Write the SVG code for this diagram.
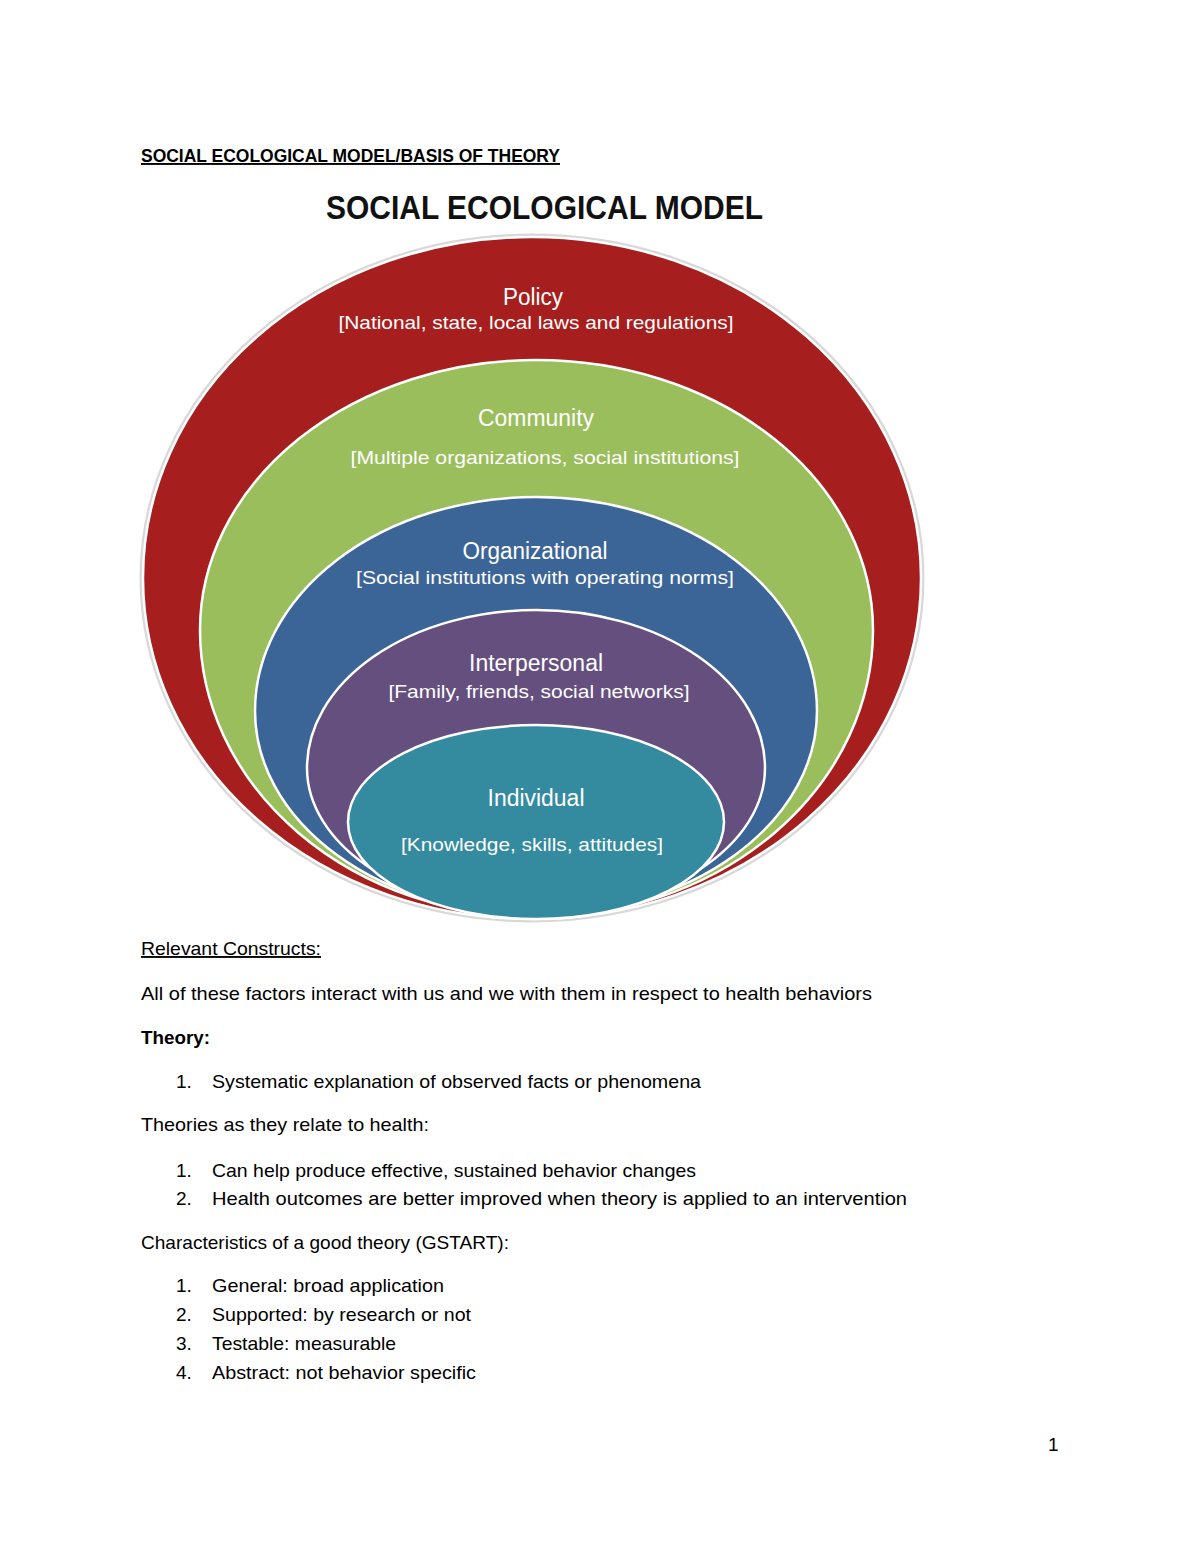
<svg xmlns="http://www.w3.org/2000/svg" width="1200" height="1553" viewBox="0 0 1200 1553">
<style>
.t{font-family:"Liberation Sans",Arial,sans-serif;fill:#000;font-size:19px}
.b{font-weight:bold}
.u{text-decoration:underline}
.w{font-family:"Liberation Sans",Arial,sans-serif;fill:#fff;text-anchor:middle}
.h{font-size:23px}
.s{font-size:19px}
.ring{stroke:#fff;stroke-width:2.5}
</style>
<rect width="1200" height="1553" fill="#fff"/>
<text class="t b u" x="141" y="162" font-size="17" textLength="419" lengthAdjust="spacingAndGlyphs">SOCIAL ECOLOGICAL MODEL/BASIS OF THEORY</text>
<text id="title" x="326" y="219" font-family="Liberation Sans,Arial,sans-serif" font-weight="bold" font-size="33" fill="#111" textLength="437" lengthAdjust="spacingAndGlyphs">SOCIAL ECOLOGICAL MODEL</text>
<g id="policy">
<ellipse cx="532" cy="578" rx="391" ry="343" fill="none" stroke="#d8d8d8" stroke-width="3"/>
<ellipse class="ring" cx="532" cy="578" rx="389" ry="341" fill="#A61E1D"/>
<text class="w h" x="533" y="305" textLength="60" lengthAdjust="spacingAndGlyphs">Policy</text>
<text class="w s" x="536" y="329" textLength="395" lengthAdjust="spacingAndGlyphs">[National, state, local laws and regulations]</text>
</g>
<g id="community">
<path class="ring" d="M200,630 A336.5,270 0 0 1 873,630 A336.5,287 0 0 1 200,630 Z" fill="#9BBE5C"/>
<text class="w h" x="536" y="426" textLength="116" lengthAdjust="spacingAndGlyphs">Community</text>
<text class="w s" x="545" y="464" textLength="389" lengthAdjust="spacingAndGlyphs">[Multiple organizations, social institutions]</text>
</g>
<g id="organizational">
<path class="ring" d="M255,711 A281,214 0 0 1 817,711 A281,204 0 0 1 255,711 Z" fill="#3C6597"/>
<text class="w h" x="535" y="559" textLength="145" lengthAdjust="spacingAndGlyphs">Organizational</text>
<text class="w s" x="545" y="584" textLength="378" lengthAdjust="spacingAndGlyphs">[Social institutions with operating norms]</text>
</g>
<g id="interpersonal">
<path class="ring" d="M307,768 A229,158 0 0 1 765,768 A229,145 0 0 1 307,768 Z" fill="#654F7F"/>
<text class="w h" x="536" y="671" textLength="134" lengthAdjust="spacingAndGlyphs">Interpersonal</text>
<text class="w s" x="539" y="698" textLength="301" lengthAdjust="spacingAndGlyphs">[Family, friends, social networks]</text>
</g>
<g id="individual">
<ellipse class="ring" cx="536" cy="822" rx="188" ry="97" fill="#348A9E"/>
<text class="w h" x="536" y="806" textLength="97" lengthAdjust="spacingAndGlyphs">Individual</text>
<text class="w s" x="532" y="851" textLength="262" lengthAdjust="spacingAndGlyphs">[Knowledge, skills, attitudes]</text>
</g>
<g id="connectors"></g>
<g id="notes">
<text class="t u" x="141" y="955" textLength="180" lengthAdjust="spacingAndGlyphs">Relevant Constructs:</text>
<text class="t" x="141" y="1000" textLength="731" lengthAdjust="spacingAndGlyphs">All of these factors interact with us and we with them in respect to health behaviors</text>
<text class="t b" x="141" y="1044" textLength="69" lengthAdjust="spacingAndGlyphs">Theory:</text>
<text class="t" x="176" y="1088">1.</text>
<text class="t" x="212" y="1088" textLength="489" lengthAdjust="spacingAndGlyphs">Systematic explanation of observed facts or phenomena</text>
<text class="t" x="141" y="1131" textLength="288" lengthAdjust="spacingAndGlyphs">Theories as they relate to health:</text>
<text class="t" x="176" y="1177">1.</text>
<text class="t" x="212" y="1177" textLength="484" lengthAdjust="spacingAndGlyphs">Can help produce effective, sustained behavior changes</text>
<text class="t" x="176" y="1205">2.</text>
<text class="t" x="212" y="1205" textLength="695" lengthAdjust="spacingAndGlyphs">Health outcomes are better improved when theory is applied to an intervention</text>
<text class="t" x="141" y="1249" textLength="368" lengthAdjust="spacingAndGlyphs">Characteristics of a good theory (GSTART):</text>
<text class="t" x="176" y="1292">1.</text>
<text class="t" x="212" y="1292" textLength="232" lengthAdjust="spacingAndGlyphs">General: broad application</text>
<text class="t" x="176" y="1321">2.</text>
<text class="t" x="212" y="1321" textLength="259" lengthAdjust="spacingAndGlyphs">Supported: by research or not</text>
<text class="t" x="176" y="1350">3.</text>
<text class="t" x="212" y="1350" textLength="184" lengthAdjust="spacingAndGlyphs">Testable: measurable</text>
<text class="t" x="176" y="1379">4.</text>
<text class="t" x="212" y="1379" textLength="264" lengthAdjust="spacingAndGlyphs">Abstract: not behavior specific</text>
<text class="t" x="1048" y="1451">1</text>
</g>
</svg>
